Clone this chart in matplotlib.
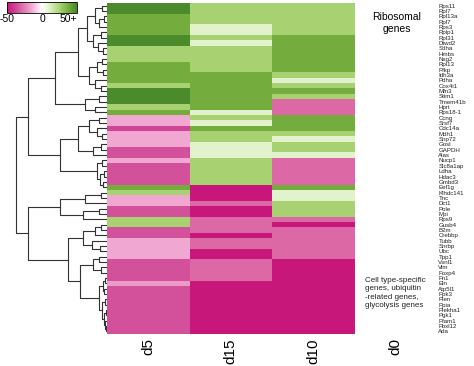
import matplotlib
matplotlib.use("Agg")
import matplotlib.pyplot as plt
from matplotlib.colors import LinearSegmentedColormap
import numpy as np

plt.rcParams['font.family'] = ['Liberation Sans', 'DejaVu Sans']

# Fold change per gene (rows, top to bottom) for each day
d5 = [48, 48, 38, 38, 38, 38, 48, 48, 25, 25, 25, 38, 38, 38, 38, 25, 48, 48, 48, 25,
      38, -15, -15, -38, -15, -15, -15, -35, -35, -15, -35, -35, -35, -35, 38, 25, -15, -15, -35, -35,
      25, 25, -35, -35, -15, -15, -15, -15, -35, -35, -35, -35, -18, -35, -35, -35, -35, -35, -35, -35,
      -35, -35]
d15 = [25, 25, 25, 25, 10, 10, 25, 10, 25, 25, 25, 25, 25, 38, 38, 38, 38, 38, 38, 38,
       10, 25, 10, 38, 25, 25, 10, 10, 10, 25, 25, 25, 25, 25, -50, -50, -50, -30, -50, -50,
       -30, -30, -30, -50, -30, -30, -50, -50, -30, -30, -30, -30, -50, -50, -50, -50, -50, -50, -50, -50,
       -50, -50]
d10 = [25, 25, 25, 25, 25, 25, 38, 38, 38, 38, 38, 38, 38, 25, 10, 25, 38, 25, -30, -30,
       -30, 38, 38, 38, 25, 10, 25, 25, 10, -30, -30, -30, -30, -30, 38, 10, 10, 25, 25, 25,
       -30, -50, -30, -30, -30, -30, -30, -30, -50, -50, -50, -50, -50, -50, -50, -50, -50, -50, -50, -50,
       -50, -50]
d0 = [0] * 62

days = ['d5', 'd15', 'd10', 'd0']

genes = ['Rps11', 'Rpl7', 'Rpl13a', 'Rpl7', 'Rps3', 'Rplp1', 'Rpl31', 'Dtwd2', 'Sdha', 'Hmbs',
         'Nsg2', 'Rpl13', 'Pfkp', 'Idh3a', 'Pdha', 'Cox4i1', 'Mfn3', 'Stim1', 'Tmem41b', 'Hprt',
         'Rps18-1', 'Ccng', 'Srsf7', 'Cdc14a', 'Mdh1', 'Snp72', 'Gosl', 'GAPDH', 'Alas', 'Nucp1',
         'Slc8a1ap', 'Ldha', 'Hdac3', 'Gmbd3', 'Eef1g', 'Klhdc141', 'Tnc', 'Dct1', 'Pole', 'Mpi',
         'Rps9', 'Gusb4', 'B2m', 'Crebbp', 'Tubb', 'Snrbp', 'Ubc', 'Tpp1', 'Vsnl1', 'Vim',
         'Foxp4', 'Fn1', 'Eln', 'Atp5l1', 'Ppk3', 'Plen', 'Ppia', 'Plekha1', 'Pgk1', 'Pfam1',
         'Fbxl12', 'Ada']

# Row clustering as nested [height, left, right]; ints are row indices
tree = [91,
        [79,
         [52,
          [29,
           [20,
            [12, [5, 0, 1], [8, [3, 2, 3], 4]],
            [14, [6, 5, 6], [9, 7, [4, 8, 9]]]],
           [18,
            [10, [5, 10, 11], [4, 12, 13]],
            [12, 14, [6, 15, 16]]]],
          [22, [8, 17, 18], [12, 19, 20]]],
         [47,
          [29,
           [18, [8, 21, 22], [10, 23, [5, 24, 25]]],
           [14, [6, 26, 27], 28]],
          [10, [5, 29, 30], [7, [3, 31, 32], [4, 33, 34]]]]],
        [79,
         [47, [22, [6, 35, 36], 37], [24, [8, 38, 39], 40]],
         [39,
          [24, [12, [6, 41, 42], 43], [15, 44, [7, 45, 46]]],
          [27,
           [14, [8, 47, 48], [6, 49, 50]],
           [8, [4, [2, 51, 52], [3, 53, 54]],
            [5, [2, 55, 56], [3, [1.5, 57, 58], [2, 59, [1, 60, 61]]]]]]]]]

cmap = LinearSegmentedColormap.from_list('pg', [
    (0.00, '#c8177a'), (0.15, '#d3509a'), (0.20, '#dc68a5'), (0.35, '#f0a8d2'),
    (0.50, '#ffffff'), (0.60, '#e2f2cc'), (0.75, '#a9d373'), (0.88, '#75ae3d'),
    (0.98, '#4b8b2b'), (1.00, '#458628')])

W, H = 474, 366
fig = plt.figure(figsize=(W / 100, H / 100), dpi=100)

# Heatmap
ax = fig.add_axes([107 / W, 32 / H, 330 / W, 331 / H])
data = np.array([d5, d15, d10, d0]).T
mesh = ax.pcolormesh(data, cmap=cmap, vmin=-50, vmax=50)
ax.set_ylim(len(genes), 0)
ax.set_xlim(0, len(days))
for s in ax.spines.values():
    s.set_visible(False)
ax.set_xticks(np.arange(len(days)) + 0.5)
ax.set_xticklabels(days, rotation=90, fontsize=11)
ax.yaxis.tick_right()
ax.set_yticks(np.arange(len(genes)) + 0.5)
ax.set_yticklabels(genes, fontsize=4.4, color='#222222')
ax.tick_params(length=0)
ax.tick_params(axis='y', pad=1)
ax.tick_params(axis='x', pad=3)

# Dendrogram
dax = fig.add_axes([15 / W, 32 / H, 92 / W, 331 / H])


def draw(node):
    if not isinstance(node, list):
        return node + 0.5, 0
    h, a, b = node
    ya, ha = draw(a)
    yb, hb = draw(b)
    dax.plot([ha, h, h, hb], [ya, ya, yb, yb], color='#333333', lw=0.8)
    return (ya + yb) / 2, h


draw(tree)
dax.set_xlim(92, 0)
dax.set_ylim(len(genes), 0)
dax.axis('off')

# Colour key
cax = fig.add_axes([7 / W, (H - 13) / H, 70 / W, 11 / H])
cb = fig.colorbar(mesh, cax=cax, orientation='horizontal', ticks=[-50, 0, 50])
cb.set_ticklabels(['-50', '0', '50+'])
cax.tick_params(length=0, pad=1, labelsize=7.5)
cax.get_xticklabels()[-1].set_ha('right')
cb.outline.set_linewidth(0.6)

fig.text(397 / W, 1 - 23 / H, 'Ribosomal\ngenes', ha='center', va='center',
         fontsize=7.5, linespacing=1.2)
fig.text(365 / W, 1 - 293 / H, 'Cell type-specific\ngenes, ubiquitin\n-related genes,\nglycolysis genes',
         ha='left', va='center', fontsize=5.8, linespacing=1.25, color='#222222')

fig.savefig('out.png', dpi=100)
